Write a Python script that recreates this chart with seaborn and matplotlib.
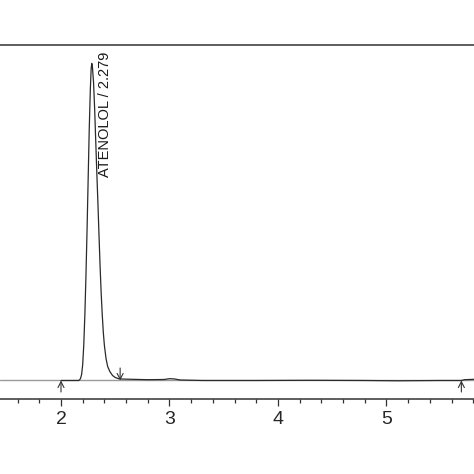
import numpy as np
import pandas as pd
import matplotlib
matplotlib.use("Agg")
import matplotlib.pyplot as plt
from matplotlib.ticker import MultipleLocator
import seaborn as sns

# trace (time in min, signal in arbitrary units)
time = [2.00, 2.10, 2.16, 2.170, 2.180, 2.190, 2.200, 2.210, 2.220, 2.230,
        2.240, 2.250, 2.260, 2.270, 2.278, 2.284, 2.290, 2.300, 2.310, 2.320,
        2.330, 2.340, 2.350, 2.360, 2.370, 2.380, 2.390, 2.400, 2.415, 2.430,
        2.450, 2.475, 2.500, 2.530, 2.560, 2.650, 2.800, 2.950, 3.000, 3.040,
        3.100, 3.300, 3.800, 4.300, 4.800, 5.100, 5.500, 5.690, 5.720, 5.810]
signal = [0.0, 0.0, 0.0, 0.5, 2, 6, 16, 36, 66, 105,
          150, 200, 250, 290, 312, 317, 313, 298, 272, 240,
          208, 178, 146, 115, 88, 66, 48, 35, 22, 14,
          9, 5, 3, 1.8, 1.5, 1.2, 0.8, 1.0, 1.8, 1.6,
          0.5, 0.0, 0.0, 0.2, 0.0, -0.3, 0.0, 0.0, 0.8, 1.2]

peak_name = "ATENOLOL"
peak_rt = 2.279
# integration markers: (time, direction)
marker_times = [2.00, 2.545, 5.69]
marker_dirs = ["up", "down", "up"]

major_ticks = [2, 3, 4, 5]

sns.set_theme(style="white")
plt.rcParams["font.family"] = ["Liberation Sans", "DejaVu Sans"]

fig = plt.figure(figsize=(4.74, 4.74), dpi=100)
ax = fig.add_axes([0, 0.1576, 1, 0.7475])

# baseline across the whole run
ax.axhline(0, color="#9a9a9a", lw=1.0, zorder=1)

df = pd.DataFrame({"time": time, "signal": signal})
sns.lineplot(data=df, x="time", y="signal", ax=ax, color="#2a2a2a", lw=0.9,
             zorder=2)

for t, d in zip(marker_times, marker_dirs):
    start = -11.5 if d == "up" else 12.5
    ax.annotate("", xy=(t, 0), xytext=(t, start),
                arrowprops=dict(arrowstyle="->,head_length=0.35,head_width=0.18",
                                color="#333333", lw=0.8, shrinkA=0, shrinkB=0))

ax.text(2.338, 203, f"{peak_name} / {peak_rt}", rotation=90,
        ha="left", va="bottom", fontsize=10.5, color="#1a1a1a")

ax.set_xlim(2 - 61 / 108.5, 2 + 413 / 108.5)
ax.set_ylim(-18.8, 335.5)
ax.set_xlabel("")
ax.set_ylabel("")
ax.set_yticks([])

ax.xaxis.set_major_locator(MultipleLocator(1))
ax.xaxis.set_minor_locator(MultipleLocator(0.2))
ax.set_xticks(major_ticks)
ax.set_xticklabels([str(v) for v in major_ticks])
ax.tick_params(axis="x", which="major", direction="out", length=5.2, width=0.9,
               color="#333333", labelsize=14, pad=3.5, bottom=True)
ax.tick_params(axis="x", which="minor", direction="out", length=3, width=0.9,
               color="#333333", bottom=True)

for side in ["left", "right"]:
    ax.spines[side].set_visible(False)
for side in ["top", "bottom"]:
    ax.spines[side].set_color("#333333")
    ax.spines[side].set_linewidth(1.1)

fig.savefig("out.png", dpi=100)
